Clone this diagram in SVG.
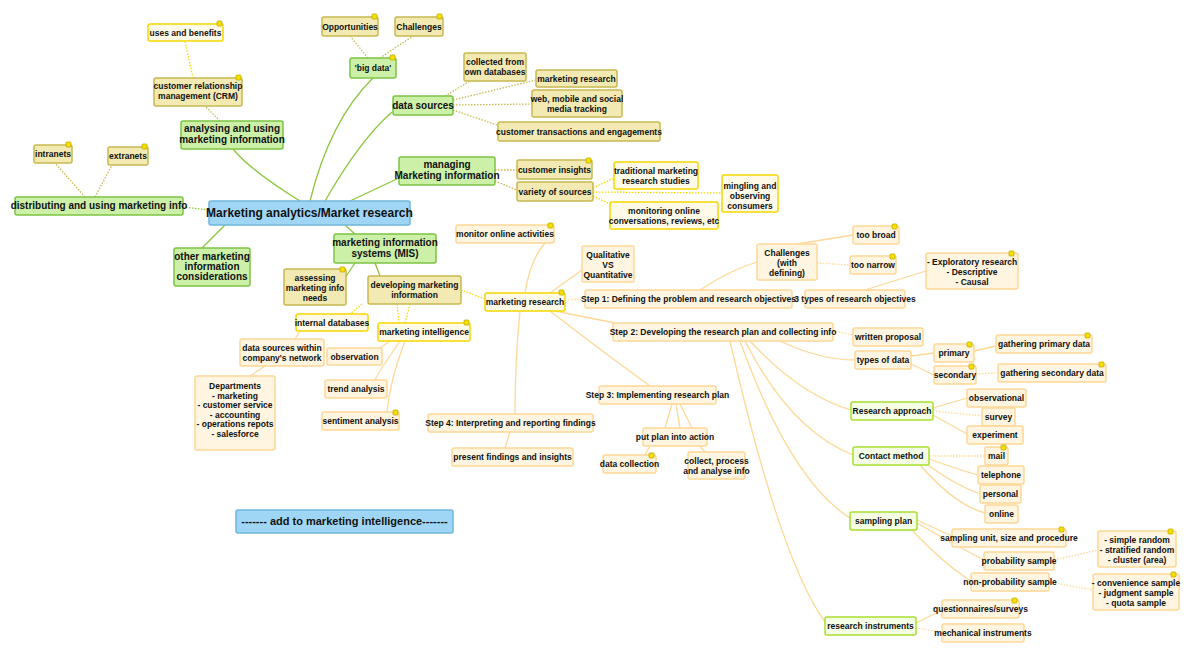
<svg xmlns="http://www.w3.org/2000/svg" width="1200" height="661" viewBox="0 0 1200 661">
<style>
text{font-family:"Liberation Sans",Arial,sans-serif;font-size:8.5px;font-weight:bold;fill:#111;text-anchor:middle}
rect{rx:2;stroke-width:1.5}
.rt{fill:#9fd6f5;stroke:#6fb6dc}
.gr{fill:#ccf0a8;stroke:#7cc444}
.ol{fill:#f2eab2;stroke:#c8b850}
.ly{fill:#fffbe8;stroke:#f5d800}
.pa{fill:#fff5e0;stroke:#ffd896}
.li{fill:#f4ffe4;stroke:#a8e030}
.n{fill:#f5e000;stroke:#c0a800;stroke-width:.8;rx:1}
.big{font-size:10px}
.c path{fill:none;stroke-width:1.3}
.cg{stroke:#8cc63f}
.cgd{stroke:#8cc63f;stroke-dasharray:1.5 1.5}
.co{stroke:#c8b850;stroke-dasharray:1.5 1.5}
.cy{stroke:#f5d800;stroke-dasharray:1.5 1.5}
.cp{stroke:#ffd896}
.cpd{stroke:#ffd896;stroke-dasharray:1.5 1.5}
</style>
<rect width="1200" height="661" fill="#fff" style="stroke:none"/>
<g class="c" id="connectors">
<path class="cgd" d="M183 207 L209 210"/>
<path class="cg" d="M300 201 Q250 170 233 149"/>
<path class="cg" d="M225 225 L195 255"/>
<path class="cg" d="M310 201 Q330 120 373 78"/>
<path class="cg" d="M325 201 Q360 140 392 112"/>
<path class="cg" d="M350 201 L399 178"/>
<path class="cg" d="M345 225 L355 234"/>
<path class="co" d="M85 197 L55 163"/>
<path class="co" d="M95 197 L112 165"/>
<path class="co" d="M220 121 L205 106"/>
<path class="cy" d="M193 78 L185 41"/>
<path class="co" d="M368 58 L350 36"/>
<path class="co" d="M380 58 L413 36"/>
<path class="co" d="M445 96 L470 81"/>
<path class="co" d="M453 100 L536 80"/>
<path class="co" d="M453 105 L532 104"/>
<path class="co" d="M453 110 L500 126"/>
<path class="co" d="M495 170 L517 170"/>
<path class="co" d="M495 181 L517 190"/>
<path class="cy" d="M593 188 L614 178"/>
<path class="cy" d="M593 192 L722 193"/>
<path class="cy" d="M593 196 L612 205"/>
<path class="cg" d="M355 263 L345 278"/>
<path class="cg" d="M375 263 L380 276"/>
<path class="cy" d="M362 304 L350 314"/>
<path class="cy" d="M397 304 L399 323"/>
<path class="cy" d="M461 290 L485 299"/>
<path class="cy" d="M410 304 L405 323"/>
<path class="cp" d="M405 341 Q390 380 387 412"/>
<path class="cp" d="M400 341 Q380 370 375 380"/>
<path class="cp" d="M390 341 L380 348"/>
<path class="cp" d="M295 339 L300 331"/>
<path class="cp" d="M265 366 L250 376"/>
<path class="cp" d="M525 293 Q530 260 545 243"/>
<path class="cp" d="M550 293 L582 270"/>
<path class="cpd" d="M565 300 L585 299"/>
<path class="cp" d="M555 311 L615 323"/>
<path class="cp" d="M550 311 Q600 350 650 386"/>
<path class="cp" d="M520 311 Q515 360 515 414"/>
<path class="cp" d="M700 290 Q730 270 757 262"/>
<path class="cp" d="M797 244 L853 235"/>
<path class="cpd" d="M817 263 L850 265"/>
<path class="cpd" d="M792 299 L805 299"/>
<path class="cp" d="M865 290 L926 271"/>
<path class="cpd" d="M833 331 L853 335"/>
<path class="cp" d="M780 341 Q820 360 855 360"/>
<path class="cp" d="M911 356 L934 353"/>
<path class="cp" d="M911 364 L934 375"/>
<path class="cp" d="M974 351 L996 346"/>
<path class="cpd" d="M976 374 L998 373"/>
<path class="cp" d="M750 341 Q800 395 851 410"/>
<path class="cp" d="M745 341 Q790 430 853 455"/>
<path class="cp" d="M740 341 Q790 480 850 518"/>
<path class="cp" d="M730 341 Q780 560 825 622"/>
<path class="cp" d="M933 408 L967 398"/>
<path class="cpd" d="M933 411 L982 416"/>
<path class="cp" d="M933 415 L967 434"/>
<path class="cpd" d="M929 456 L985 456"/>
<path class="cp" d="M929 459 Q960 470 978 475"/>
<path class="cp" d="M925 463 Q955 485 980 494"/>
<path class="cp" d="M920 465 Q955 505 985 513"/>
<path class="cp" d="M917 520 L952 536"/>
<path class="cp" d="M917 523 Q955 545 984 560"/>
<path class="cp" d="M912 530 Q945 565 971 581"/>
<path class="cpd" d="M1054 560 L1098 550"/>
<path class="cpd" d="M1049 582 L1093 590"/>
<path class="cp" d="M916 623 L942 610"/>
<path class="cpd" d="M916 628 L942 632"/>
<path class="cp" d="M672 404 L665 428"/>
<path class="cp" d="M676 404 L680 428"/>
<path class="cp" d="M680 404 L692 428"/>
<path class="cp" d="M650 446 L645 455"/>
<path class="cp" d="M700 446 L705 452"/>
<path class="cp" d="M510 432 L505 448"/>
</g>
<g id="root"><rect class="rt" x="209" y="201" width="201" height="24"/><text x="309.5" y="217" style="font-size:12px">Marketing analytics/Market research</text></g>
<g id="distributing"><rect class="gr" x="15" y="197" width="168" height="18"/><text x="99" y="209" class="big">distributing and using marketing info</text></g>
<g id="analysing"><rect class="gr" x="181" y="121" width="102" height="28"/><text x="232" y="132" class="big">analysing and using<tspan x="232" dy="11">marketing information</tspan></text></g>
<g id="other"><rect class="gr" x="174" y="248" width="76" height="38"/><text x="212" y="260" class="big">other marketing<tspan x="212" dy="10">information</tspan><tspan x="212" dy="10">considerations</tspan></text></g>
<g id="mis"><rect class="gr" x="334" y="234" width="102" height="29"/><text x="385" y="246" class="big">marketing information<tspan x="385" dy="11">systems (MIS)</tspan></text></g>
<g id="managing"><rect class="gr" x="399" y="157" width="96" height="28"/><text x="447" y="168" class="big">managing<tspan x="447" dy="11">Marketing information</tspan></text></g>
<g id="datasources"><rect class="gr" x="393" y="96" width="60" height="19"/><text x="423" y="109" class="big">data sources</text></g>
<g id="bigdata"><rect class="gr" x="350" y="58" width="46" height="20"/><text x="373" y="71">'big data'</text><rect class="n" x="390" y="55" width="5" height="5"/></g>
<g id="uses"><rect class="ly" x="148" y="24" width="75" height="17"/><text x="185.5" y="36">uses and benefits</text><rect class="n" x="217" y="21" width="5" height="5"/></g>
<g id="crm"><rect class="ol" x="154" y="78" width="88" height="28"/><text x="198" y="89">customer relationship<tspan x="198" dy="10">management (CRM)</tspan></text><rect class="n" x="236" y="75" width="5" height="5"/></g>
<g id="intranets"><rect class="ol" x="34" y="145" width="38" height="18"/><text x="53" y="157">intranets</text><rect class="n" x="66" y="142" width="5" height="5"/></g>
<g id="extranets"><rect class="ol" x="108" y="147" width="40" height="18"/><text x="128" y="159">extranets</text><rect class="n" x="142" y="144" width="5" height="5"/></g>
<g id="opps"><rect class="ol" x="322" y="17" width="56" height="19"/><text x="350" y="30">Opportunities</text><rect class="n" x="372" y="14" width="5" height="5"/></g>
<g id="challenges"><rect class="ol" x="395" y="17" width="48" height="19"/><text x="419" y="30">Challenges</text><rect class="n" x="437" y="14" width="5" height="5"/></g>
<g id="collected"><rect class="ol" x="464" y="53" width="62" height="28"/><text x="495" y="65">collected from<tspan x="495" dy="10">own databases</tspan></text></g>
<g id="mr1"><rect class="ol" x="536" y="70" width="81" height="17"/><text x="576.5" y="82">marketing research</text></g>
<g id="web"><rect class="ol" x="532" y="90" width="90" height="27"/><text x="577" y="102">web, mobile and social<tspan x="577" dy="10">media tracking</tspan></text></g>
<g id="cte"><rect class="ol" x="498" y="122" width="162" height="19"/><text x="579" y="135">customer transactions and engagements</text></g>
<g id="insights"><rect class="ol" x="517" y="160" width="75" height="19"/><text x="554.5" y="173">customer insights</text><rect class="n" x="586" y="158" width="5" height="5"/></g>
<g id="variety"><rect class="ol" x="517" y="182" width="76" height="19"/><text x="555" y="195">variety of sources</text></g>
<g id="traditional"><rect class="ly" x="614" y="162" width="84" height="27"/><text x="656" y="174">traditional marketing<tspan x="656" dy="10">research studies</tspan></text></g>
<g id="monitoring"><rect class="ly" x="610" y="202" width="108" height="27"/><text x="664" y="214">monitoring online<tspan x="664" dy="10">conversations, reviews, etc</tspan></text></g>
<g id="mingling"><rect class="ly" x="722" y="175" width="56" height="37"/><text x="750" y="189">mingling and<tspan x="750" dy="10">observing</tspan><tspan x="750" dy="10">consumers</tspan></text></g>
<g id="assessing"><rect class="ol" x="284" y="269" width="62" height="36"/><text x="315" y="281">assessing<tspan x="315" dy="10">marketing info</tspan><tspan x="315" dy="10">needs</tspan></text><rect class="n" x="340" y="267" width="5" height="5"/></g>
<g id="developing"><rect class="ol" x="368" y="276" width="93" height="28"/><text x="414.5" y="288">developing marketing<tspan x="414.5" dy="10">information</tspan></text></g>
<g id="mr2"><rect class="ly" x="485" y="293" width="80" height="18"/><text x="525" y="305">marketing research</text><rect class="n" x="559" y="290" width="5" height="5"/></g>
<g id="internal"><rect class="ly" x="296" y="314" width="72" height="17"/><text x="332" y="326">internal databases</text></g>
<g id="intel"><rect class="ly" x="378" y="323" width="92" height="18"/><text x="424" y="335">marketing intelligence</text><rect class="n" x="464" y="320" width="5" height="5"/></g>
<g id="dswithin"><rect class="pa" x="240" y="339" width="84" height="27"/><text x="282" y="351">data sources within<tspan x="282" dy="10">company's network</tspan></text></g>
<g id="departments"><rect class="pa" x="195" y="376" width="80" height="74"/><text x="235" y="389">Departments<tspan x="235" dy="9.5">- marketing</tspan><tspan x="235" dy="9.5">- customer service</tspan><tspan x="235" dy="9.5">- accounting</tspan><tspan x="235" dy="9.5">- operations repots</tspan><tspan x="235" dy="9.5">- salesforce</tspan></text></g>
<g id="observation"><rect class="pa" x="327" y="348" width="55" height="17"/><text x="354.5" y="360">observation</text></g>
<g id="trend"><rect class="pa" x="325" y="380" width="62" height="18"/><text x="356" y="392">trend analysis</text></g>
<g id="sentiment"><rect class="pa" x="322" y="412" width="77" height="18"/><text x="360.5" y="424">sentiment analysis</text><rect class="n" x="393" y="410" width="5" height="5"/></g>
<g id="monitorOnline"><rect class="pa" x="456" y="225" width="98" height="18"/><text x="505" y="237">monitor online activities</text><rect class="n" x="548" y="223" width="5" height="5"/></g>
<g id="qual"><rect class="pa" x="582" y="246" width="52" height="36"/><text x="608" y="258">Qualitative<tspan x="608" dy="10">VS</tspan><tspan x="608" dy="10">Quantitative</tspan></text></g>
<g id="step1"><rect class="pa" x="585" y="290" width="207" height="18"/><text x="688.5" y="302">Step 1: Defining the problem and research objectives</text></g>
<g id="chall2"><rect class="pa" x="757" y="244" width="60" height="36"/><text x="787" y="256">Challenges<tspan x="787" dy="10">(with</tspan><tspan x="787" dy="10">defining)</tspan></text></g>
<g id="broad"><rect class="pa" x="853" y="226" width="46" height="18"/><text x="876" y="238">too broad</text><rect class="n" x="892" y="224" width="5" height="5"/></g>
<g id="narrow"><rect class="pa" x="850" y="256" width="46" height="18"/><text x="873" y="268">too narrow</text><rect class="n" x="890" y="254" width="5" height="5"/></g>
<g id="types3"><rect class="pa" x="805" y="290" width="100" height="18"/><text x="855" y="302">3 types of research objectives</text></g>
<g id="explor"><rect class="pa" x="926" y="253" width="92" height="36"/><text x="972" y="265">- Exploratory research<tspan x="972" dy="10">- Descriptive</tspan><tspan x="972" dy="10">- Causal</tspan></text><rect class="n" x="1009" y="251" width="5" height="5"/></g>
<g id="step2"><rect class="pa" x="613" y="323" width="220" height="18"/><text x="723" y="335">Step 2: Developing the research plan and collecting info</text></g>
<g id="written"><rect class="pa" x="853" y="328" width="70" height="18"/><text x="888" y="340">written proposal</text></g>
<g id="typesdata"><rect class="pa" x="855" y="351" width="56" height="18"/><text x="883" y="363">types of data</text></g>
<g id="primary"><rect class="pa" x="934" y="344" width="40" height="18"/><text x="954" y="356">primary</text><rect class="n" x="967" y="342" width="5" height="5"/></g>
<g id="secondary"><rect class="pa" x="934" y="366" width="42" height="18"/><text x="955" y="378">secondary</text><rect class="n" x="969" y="364" width="5" height="5"/></g>
<g id="gprim"><rect class="pa" x="996" y="335" width="96" height="18"/><text x="1044" y="347">gathering primary data</text><rect class="n" x="1085" y="333" width="5" height="5"/></g>
<g id="gsec"><rect class="pa" x="998" y="364" width="108" height="18"/><text x="1052" y="376">gathering secondary data</text><rect class="n" x="1099" y="362" width="5" height="5"/></g>
<g id="rapproach"><rect class="li" x="851" y="402" width="82" height="18"/><text x="892" y="414">Research approach</text></g>
<g id="observational"><rect class="pa" x="967" y="389" width="59" height="18"/><text x="996.5" y="401">observational</text></g>
<g id="survey"><rect class="pa" x="982" y="408" width="33" height="18"/><text x="998.5" y="420">survey</text></g>
<g id="experiment"><rect class="pa" x="967" y="426" width="56" height="18"/><text x="995" y="438">experiment</text></g>
<g id="contact"><rect class="li" x="853" y="447" width="76" height="18"/><text x="891" y="459">Contact method</text></g>
<g id="mail"><rect class="pa" x="985" y="447" width="23" height="18"/><text x="996.5" y="459">mail</text><rect class="n" x="1001" y="445" width="5" height="5"/></g>
<g id="telephone"><rect class="pa" x="978" y="466" width="46" height="18"/><text x="1001" y="478">telephone</text></g>
<g id="personal"><rect class="pa" x="980" y="485" width="41" height="18"/><text x="1000.5" y="497">personal</text></g>
<g id="online"><rect class="pa" x="985" y="505" width="33" height="18"/><text x="1001.5" y="517">online</text></g>
<g id="sampling"><rect class="li" x="850" y="512" width="67" height="18"/><text x="883.5" y="524">sampling plan</text></g>
<g id="unit"><rect class="pa" x="952" y="529" width="114" height="18"/><text x="1009" y="541">sampling unit, size and procedure</text><rect class="n" x="1059" y="527" width="5" height="5"/></g>
<g id="prob"><rect class="pa" x="984" y="552" width="70" height="18"/><text x="1019" y="564">probability sample</text></g>
<g id="simple"><rect class="pa" x="1098" y="531" width="78" height="36"/><text x="1137" y="543">- simple random<tspan x="1137" dy="10">- stratified random</tspan><tspan x="1137" dy="10">- cluster (area)</tspan></text><rect class="n" x="1168" y="529" width="5" height="5"/></g>
<g id="nonprob"><rect class="pa" x="971" y="573" width="78" height="18"/><text x="1010" y="585">non-probability sample</text></g>
<g id="conv"><rect class="pa" x="1093" y="574" width="86" height="36"/><text x="1136" y="586">- convenience sample<tspan x="1136" dy="10">- judgment sample</tspan><tspan x="1136" dy="10">- quota sample</tspan></text><rect class="n" x="1171" y="572" width="5" height="5"/></g>
<g id="quest"><rect class="pa" x="942" y="600" width="77" height="18"/><text x="980.5" y="612">questionnaires/surveys</text><rect class="n" x="1012" y="598" width="5" height="5"/></g>
<g id="rinstr"><rect class="li" x="825" y="617" width="91" height="18"/><text x="870.5" y="629">research instruments</text></g>
<g id="mech"><rect class="pa" x="942" y="624" width="82" height="18"/><text x="983" y="636">mechanical instruments</text></g>
<g id="step3"><rect class="pa" x="599" y="386" width="117" height="18"/><text x="657.5" y="398">Step 3: Implementing research plan</text></g>
<g id="put"><rect class="pa" x="643" y="428" width="64" height="18"/><text x="675" y="440">put plan into action</text></g>
<g id="dcoll"><rect class="pa" x="603" y="455" width="53" height="18"/><text x="629.5" y="467">data collection</text><rect class="n" x="649" y="453" width="5" height="5"/></g>
<g id="collect"><rect class="pa" x="688" y="452" width="57" height="27"/><text x="716.5" y="464">collect, process<tspan x="716.5" dy="10">and analyse info</tspan></text></g>
<g id="step4"><rect class="pa" x="428" y="414" width="165" height="18"/><text x="510.5" y="426">Step 4: Interpreting and reporting findings</text></g>
<g id="present"><rect class="pa" x="452" y="448" width="121" height="18"/><text x="512.5" y="460">present findings and insights</text></g>
<g id="add"><rect class="rt" x="236" y="510" width="217" height="23"/><text x="344.5" y="525" style="font-size:11px">------- add to marketing intelligence-------</text></g>
</svg>
